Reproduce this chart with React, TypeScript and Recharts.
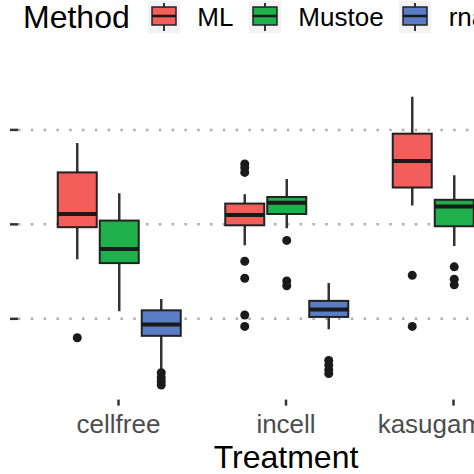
import { ComposedChart, Bar, XAxis, YAxis, CartesianGrid, Legend, Label } from "recharts";

const TREATMENTS = ["cellfree", "incell", "kasugamycin"];
const METHODS = ["ML", "Mustoe", "rnaseq"];
const COLORS = ["#F35E5A", "#1FAF4B", "#5A7DC6"];

// [lower whisker, q1, median, q3, upper whisker], one per treatment
const ML_BOXES = [
  [1.63, 1.97, 2.11, 2.55, 2.86],
  [1.78, 1.99, 2.1, 2.22, 2.32],
  [2.2, 2.39, 2.67, 2.96, 3.35],
];
const MUSTOE_BOXES = [
  [1.08, 1.59, 1.74, 2.04, 2.33],
  [1.96, 2.11, 2.23, 2.29, 2.48],
  [1.77, 1.98, 2.19, 2.26, 2.52],
];
const RNA_BOXES = [
  [0.46, 0.82, 0.94, 1.09, 1.21],
  [0.89, 1.02, 1.1, 1.19, 1.38],
  [0.95, 1.12, 1.25, 1.38, 1.6],
];

const ML_OUTLIERS = [[0.8], [2.64, 2.6, 2.55, 1.61, 1.43, 1.04, 0.92], [1.46, 0.92]];
const MUSTOE_OUTLIERS = [[], [1.83, 1.4, 1.35], [1.55, 1.42, 1.36]];
const RNA_OUTLIERS = [[0.43, 0.38, 0.34, 0.3], [0.56, 0.51, 0.46, 0.42], [0.7]];

const Y_TICKS = [1, 2, 3];
const Y_DOMAIN = [0.145, 3.505];

const BOXES = [ML_BOXES, MUSTOE_BOXES, RNA_BOXES];
const OUTLIERS = [ML_OUTLIERS, MUSTOE_OUTLIERS, RNA_OUTLIERS];

const data = TREATMENTS.map((t, i) => {
  const row: Record<string, any> = { treatment: t };
  METHODS.forEach((m, j) => {
    row[m] = [BOXES[j][i][0], BOXES[j][i][4]];
  });
  return row;
});

// the bar spans whisker to whisker; the other stats are placed on the same linear scale
function makeBoxShape(series: number) {
  return (props: any) => {
    const { x, y, width, height } = props;
    const index = props.index ?? TREATMENTS.indexOf(props.payload?.treatment);
    const [lo, q1, med, q3, hi] = BOXES[series][index];
    const top = Math.min(y, y + height);
    const bot = Math.max(y, y + height);
    const py = (v: number) => bot - ((v - lo) / (hi - lo)) * (bot - top);
    const cx = x + width / 2;
    return (
      <g>
        <line x1={cx} x2={cx} y1={py(hi)} y2={py(lo)} stroke="#333" strokeWidth={2.5} />
        <rect x={x} y={py(q3)} width={width} height={py(q1) - py(q3)} fill={COLORS[series]} stroke="#222" strokeWidth={2} />
        <line x1={x} x2={x + width} y1={py(med)} y2={py(med)} stroke="#1a1a1a" strokeWidth={4} />
        {OUTLIERS[series][index].map((o, k) => (
          <circle key={k} cx={cx} cy={py(o)} r={4.5} fill="#1a1a1a" />
        ))}
      </g>
    );
  };
}

function KeyGlyph({ color }: { color: string }) {
  return (
    <svg width={32} height={32} style={{ display: "block" }}>
      <rect x={0} y={0} width={32} height={32} fill="#f2f2f2" />
      <line x1={16} x2={16} y1={2} y2={30} stroke="#333" strokeWidth={2} />
      <rect x={4} y={6} width={24} height={18} fill={color} stroke="#222" strokeWidth={1.5} />
      <line x1={4} x2={28} y1={15} y2={15} stroke="#1a1a1a" strokeWidth={2.5} />
    </svg>
  );
}

function MethodLegend() {
  return (
    <div style={{ height: 81.2 }}>
      <div style={{ display: "flex", alignItems: "center", height: 32, marginTop: 1, whiteSpace: "nowrap" }}>
        <span style={{ fontSize: 32, lineHeight: "32px", color: "#000", marginRight: 18 }}>Method</span>
        {METHODS.map((m, i) => (
          <div key={m} style={{ display: "flex", alignItems: "center" }}>
            <KeyGlyph color={COLORS[i]} />
            <span style={{ fontSize: 26, lineHeight: "32px", color: "#000", marginLeft: 17.5, marginRight: 15.5 }}>{m}</span>
          </div>
        ))}
      </div>
    </div>
  );
}

export default function App() {
  return (
    <div
      style={{
        position: "absolute",
        left: 0,
        top: 0,
        width: 474,
        height: 474,
        overflow: "hidden",
        background: "#fff",
        fontFamily: "'Liberation Sans', Arial, sans-serif",
      }}
    >
      <div style={{ position: "relative", left: -22.5 }}>
        <ComposedChart
          width={576}
          height={474}
          data={data}
          margin={{ top: 0, right: 0, bottom: 0, left: 0 }}
          barCategoryGap={23}
          barGap={3}
        >
          <CartesianGrid
            vertical={false}
            syncWithTicks
            stroke="#adadad"
            strokeWidth={2.5}
            strokeDasharray="2.5 10.3"
          />
          <XAxis
            dataKey="treatment"
            interval={0}
            axisLine={false}
            tickLine={{ stroke: "#333", strokeWidth: 2.5 }}
            tickSize={6}
            tickMargin={9}
            padding={{ left: 16.75, right: 16.75 }}
            height={74.4}
            tick={{ fill: "#4d4d4d", fontSize: 26 }}
          >
            <Label value="Treatment" position="insideBottom" offset={6} fill="#000" fontSize={32} />
          </XAxis>
          <YAxis
            type="number"
            domain={Y_DOMAIN}
            ticks={Y_TICKS}
            allowDataOverflow
            width={40}
            axisLine={false}
            tickLine={{ stroke: "#333", strokeWidth: 2.5 }}
            tickSize={8}
            tickMargin={10}
            tick={{ fill: "#4d4d4d", fontSize: 26 }}
          />
          <Legend
            verticalAlign="top"
            align="left"
            content={() => <MethodLegend />}
            wrapperStyle={{ left: 45.5, top: 0, width: 600 }}
          />
          {METHODS.map((m, i) => (
            <Bar key={m} dataKey={m} fill={COLORS[i]} isAnimationActive={false} shape={makeBoxShape(i)} />
          ))}
        </ComposedChart>
      </div>
    </div>
  );
}
